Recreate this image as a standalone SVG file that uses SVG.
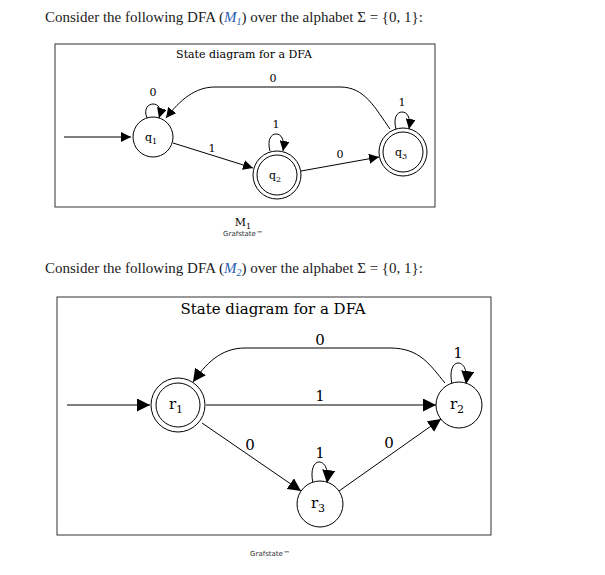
<svg xmlns="http://www.w3.org/2000/svg" width="605" height="575" viewBox="0 0 605 575">
<defs>
<marker id="ah" viewBox="0 0 10 10" refX="10" refY="5" markerWidth="10" markerHeight="10" markerUnits="userSpaceOnUse" orient="auto"><path d="M0,0L10,5L0,10z" fill="#000"/></marker>
<marker id="ah2" viewBox="0 0 10 10" refX="10" refY="5" markerWidth="13" markerHeight="13" markerUnits="userSpaceOnUse" orient="auto"><path d="M0,0L10,5L0,10z" fill="#000"/></marker>
<style>
.h{font-family:"Liberation Serif",serif;font-size:15px;fill:#222}
.m{font-style:italic;fill:#2a5db0}
.t{font-family:"DejaVu Serif",serif;font-size:11px;text-anchor:middle}
.t2{font-family:"DejaVu Serif",serif;font-size:15px;text-anchor:middle}
.n{fill:#fff;stroke:#000;stroke-width:1}
.e{fill:none;stroke:#000;stroke-width:1}
.g{font-family:"DejaVu Sans",sans-serif;font-size:7px;text-anchor:middle;fill:#333}
</style>
</defs>
<rect width="605" height="575" fill="#fff"/>
<text class="h" x="45" y="22">Consider the following DFA (<tspan class="m">M</tspan><tspan class="m" font-size="10" dy="3">1</tspan><tspan dy="-3">) over the alphabet Σ = {0, 1}:</tspan></text>
<rect x="55" y="44" width="380" height="163" fill="#fff" stroke="#333"/>
<text class="t" x="244" y="58">State diagram for a DFA</text>
<g id="edges1">
<path class="e" d="M64,137H131" marker-end="url(#ah)"/>
<path class="e" d="M147,118C143,108 149,104 153,104C158,104 162,108 159,118" marker-end="url(#ah)"/>
<text class="t" x="153" y="96">0</text>
<path class="e" d="M390,129C375,108 365,87 340,87H215C195,87 180,100 166,118" marker-end="url(#ah)"/>
<text class="t" x="273" y="82">0</text>
<path class="e" d="M173,143L253,168" marker-end="url(#ah)"/>
<text class="t" x="212" y="152">1</text>
<path class="e" d="M270,151C267,140 271,134 276,134C281,134 285,139 283,151" marker-end="url(#ah)"/>
<text class="t" x="276" y="128">1</text>
<path class="e" d="M301,171L379,157" marker-end="url(#ah)"/>
<text class="t" x="340" y="158">0</text>
<path class="e" d="M396,129C393,118 397,112 402,112C407,112 411,117 409,129" marker-end="url(#ah)"/>
<text class="t" x="402" y="106">1</text>
</g>
<g id="q1"><circle class="n" cx="153" cy="137" r="20"/><text class="t" x="151" y="141">q<tspan font-size="8" dy="3">1</tspan></text></g>
<g id="q2"><circle class="n" cx="277" cy="175" r="24"/><circle class="n" cx="277" cy="175" r="20"/><text class="t" x="275" y="179">q<tspan font-size="8" dy="3">2</tspan></text></g>
<g id="q3"><circle class="n" cx="403" cy="152" r="24"/><circle class="n" cx="403" cy="152" r="20"/><text class="t" x="401" y="156">q<tspan font-size="8" dy="3">3</tspan></text></g>
<text class="t" x="243" y="226">M<tspan font-size="8" dy="3">1</tspan></text>
<text class="g" x="243" y="236">Grafstate™</text>

<text class="h" x="45" y="273">Consider the following DFA (<tspan class="m">M</tspan><tspan class="m" font-size="10" dy="3">2</tspan><tspan dy="-3">) over the alphabet Σ = {0, 1}:</tspan></text>
<rect x="57" y="297" width="434" height="238" fill="#fff" stroke="#333"/>
<text class="t2" x="273" y="314">State diagram for a DFA</text>
<g id="edges2">
<path class="e" d="M67,405H150" marker-end="url(#ah2)"/>
<path class="e" d="M445,383C430,365 420,348 390,348H245C220,348 205,365 193,382" marker-end="url(#ah2)"/>
<text class="t2" x="320" y="345">0</text>
<path class="e" d="M206,405H436" marker-end="url(#ah2)"/>
<text class="t2" x="320" y="401">1</text>
<path class="e" d="M202,423L301,491" marker-end="url(#ah2)"/>
<text class="t2" x="250" y="450">0</text>
<path class="e" d="M339,491L441,419" marker-end="url(#ah2)"/>
<text class="t2" x="389" y="448">0</text>
<path class="e" d="M313,483C310,470 314,462 319,462C324,462 329,468 327,483" marker-end="url(#ah2)"/>
<text class="t2" x="320" y="458">1</text>
<path class="e" d="M452,384C449,371 453,363 458,363C463,363 468,369 466,384" marker-end="url(#ah2)"/>
<text class="t2" x="458" y="358">1</text>
</g>
<g id="r1"><circle class="n" cx="178" cy="405" r="27"/><circle class="n" cx="178" cy="405" r="22"/><text class="t2" x="176" y="409">r<tspan font-size="11" dy="4">1</tspan></text></g>
<g id="r2"><circle class="n" cx="459" cy="405" r="23"/><text class="t2" x="457" y="409">r<tspan font-size="11" dy="4">2</tspan></text></g>
<g id="r3"><circle class="n" cx="320" cy="504" r="23"/><text class="t2" x="318" y="508">r<tspan font-size="11" dy="4">3</tspan></text></g>
<text class="g" x="270" y="556">Grafstate™</text>
</svg>
